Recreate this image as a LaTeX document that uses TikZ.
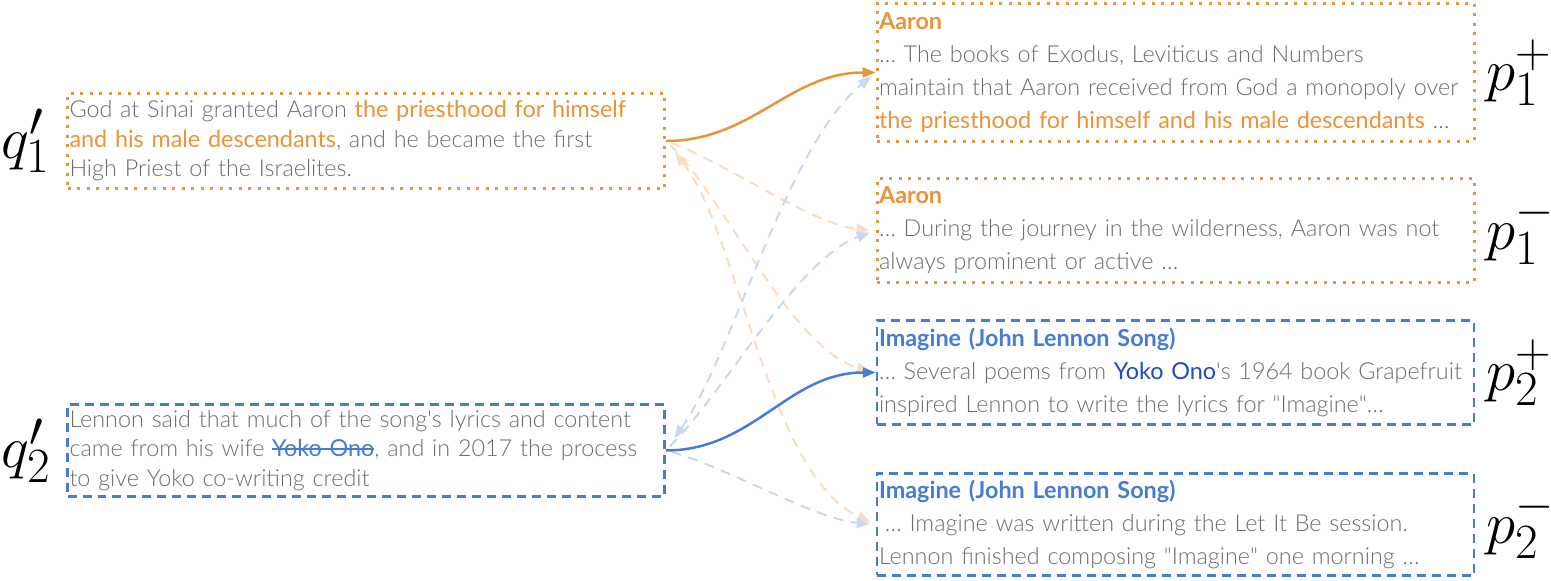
\documentclass[tikz,border=0pt]{standalone}
\usepackage{fontspec}
\setmainfont{Lato}[UprightFont=* Light, BoldFont=* Bold]
\newfontfamily\regfont{Lato}
\usetikzlibrary{arrows.meta,positioning}
\definecolor{qorange}{RGB}{232,148,58}
\definecolor{qblue}{RGB}{70,125,212}
\definecolor{ydark}{RGB}{30,75,190}
\definecolor{tgray}{RGB}{108,108,108}
\definecolor{lorange}{RGB}{249,220,194}
\definecolor{lblue}{RGB}{200,216,244}
\newsavebox\strikebox
\newcommand\strikeword[1]{\sbox\strikebox{#1}\rlap{\usebox\strikebox}\rule[0.3em]{\wd\strikebox}{0.08em}}
\newcommand\qt{\textquotedbl}
\newcommand\ap{\textquotesingle}

\begin{document}
\begin{tikzpicture}[thin,
    txt/.style = {text width=11.86cm, inner xsep=0.04cm, align=left, text=tgray,
                  font=\fontsize{13.3}{16.8}\selectfont},
    ptxt/.style = {font=\fontsize{13.3}{18.8}\selectfont},
    obox/.style = {txt, draw=qorange, line width=0.06cm, dash pattern=on 0.06cm off 0.13cm},
    bbox/.style = {txt, draw=qblue, line width=0.05cm, dash pattern=on 0.18cm off 0.12cm},
    lbl/.style  = {inner sep=0pt},
    posedge/.style = {-{Triangle[length=0.26cm,width=0.2cm]}, line width=0.05cm},
    negedge/.style = {-{Triangle[length=0.26cm,width=0.2cm]}, looseness=0.7,
                   line width=0.04cm, dash pattern=on 0.2cm off 0.15cm,
                   shorten <=0.12cm, shorten >=0.12cm},
    backtip/.style = {{Triangle[length=0.26cm,width=0.2cm]}-{Triangle[length=0.26cm,width=0.2cm]},
                   shorten <=0.3cm},
  ]
  \useasboundingbox (0,0) rectangle (31.02,11.6);

  % queries
  \node[obox, minimum height=1.9cm] (q1) at (7.32,8.78)
    {God at Sinai granted Aaron {\regfont\color{qorange}the priesthood for himself}\\
     {\regfont\color{qorange}and his male descendants}, and he became the first\\
     High Priest of the Israelites.};
  \node[bbox, minimum height=1.84cm] (q2) at (7.32,2.59)
    {Lennon said that much of the song\ap s lyrics and content\\
     came from his wife {\regfont\color{qblue}\strikeword{Yoko Ono}}, and in 2017 the process\\
     to give Yoko co-writing credit};

  % passages
  \node[obox, ptxt, minimum height=2.76cm] (p1pos) at (23.51,10.15)
    {{\bfseries\color{qorange}Aaron}\\
     … The books of Exodus, Leviticus and Numbers\\
     maintain that Aaron received from God a monopoly over\\
     {\regfont\color{qorange}the priesthood for himself and his male descendants} …};
  \node[obox, ptxt, minimum height=2.08cm] (p1neg) at (23.51,6.99)
    {{\bfseries\color{qorange}Aaron}\\
     … During the journey in the wilderness, Aaron was not\\
     always prominent or active …};
  \node[bbox, ptxt, minimum height=2.08cm] (p2pos) at (23.51,4.15)
    {{\bfseries\color{qblue}Imagine (John Lennon Song)}\\
     … Several poems from {\regfont\color{ydark}Yoko Ono}\ap s 1964 book Grapefruit\\
     inspired Lennon to write the lyrics for \qt Imagine\qt…};
  \node[bbox, ptxt, minimum height=2.04cm] (p2neg) at (23.51,1.11)
    {{\bfseries\color{qblue}Imagine (John Lennon Song)}\\
     \hspace{0.25em}… Imagine was written during the Let It Be session.\\
     Lennon finished composing \qt Imagine\qt{} one morning …};

  % labels
  \node[lbl, left=0.3cm of q1] (lq1) {\scalebox{1.35}{\Huge$q'_1$}};
  \node[lbl, left=0.3cm of q2] (lq2) {\scalebox{1.35}{\Huge$q'_2$}};
  \node[lbl, right=0.22cm of p1pos] (lp1pos) {\scalebox{1.35}{\Huge$p_1^+$}};
  \node[lbl, right=0.22cm of p1neg] (lp1neg) {\scalebox{1.35}{\Huge$p_1^-$}};
  \node[lbl, right=0.22cm of p2pos] (lp2pos) {\scalebox{1.35}{\Huge$p_2^+$}};
  \node[lbl, right=0.22cm of p2neg] (lp2neg) {\scalebox{1.35}{\Huge$p_2^-$}};

  % negatives
  \draw[negedge, lorange] (q1.east) to[out=-20, in=175] (p1neg.west);
  \draw[negedge, lorange] (q1.east) to[out=-45, in=165] (p2pos.west);
  \draw[negedge, backtip, lorange] (q1.east) to[out=-52, in=155] (p2neg.west);
  \draw[negedge, backtip, lblue] (q2.east) to[out=55, in=220] (p1pos.west);
  \draw[negedge, lblue] (q2.east) to[out=45, in=200] (p1neg.west);
  \draw[negedge, lblue] (q2.east) to[out=-15, in=175] (p2neg.west);

  % positives
  \draw[posedge, qorange] (q1.east) to[out=0, in=180] (p1pos.west);
  \draw[posedge, qblue] (q2.east) to[out=0, in=180] (p2pos.west);
\end{tikzpicture}
\end{document}
